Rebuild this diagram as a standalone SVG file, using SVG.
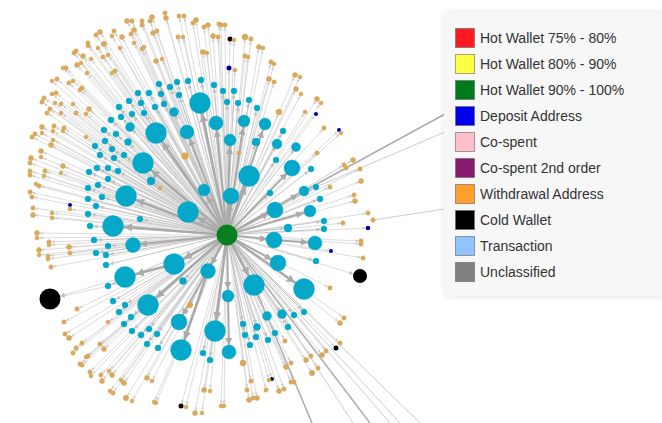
<svg xmlns="http://www.w3.org/2000/svg" width="662" height="423" viewBox="0 0 662 423">
<style>
.e path{fill:none}
.o path{stroke:#d6d6d6;stroke-width:.85;marker-end:url(#mo)}
.b path{stroke:#aaa;stroke-width:2.6;marker-end:url(#m10)}
.m path{stroke:#aaa;stroke-width:2;marker-end:url(#m7)}
.s path{stroke:#c6c6c6;stroke-width:1;marker-end:url(#m4)}
.l path{stroke:#cdcdcd;stroke-width:1}
.d path{stroke:#adadad;stroke-width:1.5}
.a{fill:#d8a95c;stroke:#d8a95c;stroke-width:.6}.x{fill:#05a8c9;stroke:#05a8c9;stroke-width:.4}.c{fill:#000}.n{fill:#0000a8}.w{fill:#e2a445}.h{fill:#0a7f22}
.k{stroke:#666;stroke-opacity:.6;stroke-width:1}
text{font-family:"Liberation Sans",Arial,sans-serif;font-size:14px;fill:#333}
</style>
<defs>
<marker id="m10" markerUnits="userSpaceOnUse" viewBox="0 0 8 8" refX="19" refY="4" markerWidth="8" markerHeight="8" orient="auto" overflow="visible"><path d="M0 0L8 4L0 8z" fill="#aaa"/></marker>
<marker id="m7" markerUnits="userSpaceOnUse" viewBox="0 0 7 7" refX="14" refY="3.5" markerWidth="7" markerHeight="7" orient="auto" overflow="visible"><path d="M0 0L7 3.5L0 7z" fill="#aaa"/></marker>
<marker id="m4" markerUnits="userSpaceOnUse" viewBox="0 0 4 4" refX="7.500" refY="2" markerWidth="4" markerHeight="4" orient="auto" overflow="visible"><path d="M0 0L4 2L0 4z" fill="#c0c0c0"/></marker>
<marker id="mo" markerUnits="userSpaceOnUse" viewBox="0 0 3 3" refX="5.500" refY="1.500" markerWidth="3" markerHeight="3" orient="auto" overflow="visible"><path d="M0 0L3 1.500L0 3z" fill="#cdcdcd"/></marker>
<marker id="mc" markerUnits="userSpaceOnUse" viewBox="0 0 4 4" refX="15" refY="2" markerWidth="4" markerHeight="4" orient="auto" overflow="visible"><path d="M0 0L4 2L0 4z" fill="#bdbdbd"/></marker>
<marker id="mc7" markerUnits="userSpaceOnUse" viewBox="0 0 4 4" refX="11" refY="2" markerWidth="4" markerHeight="4" orient="auto" overflow="visible"><path d="M0 0L4 2L0 4z" fill="#bdbdbd"/></marker>
<filter id="sh" x="-10%" y="-10%" width="120%" height="120%"><feGaussianBlur stdDeviation="3"/></filter>
<radialGradient id="fade" gradientUnits="userSpaceOnUse" cx="227" cy="235" r="90"><stop offset=".2" stop-color="#fff" stop-opacity=".1"/><stop offset=".8" stop-color="#fff" stop-opacity="1"/></radialGradient>
<mask id="fm" maskUnits="userSpaceOnUse" x="0" y="0" width="662" height="423"><rect width="662" height="423" fill="url(#fade)"/></mask>
</defs>
<g id="connectors" class="e">
<g class="o" mask="url(#fm)">
<path d="M227 235L165 13"/><path d="M227 235L166 18"/><path d="M227 235L179 16"/><path d="M227 235L184 16"/><path d="M227 235L196 20"/><path d="M227 235L193 23"/><path d="M227 235L208 25"/><path d="M227 235L204 27"/><path d="M227 235L219 24"/>
<path d="M227 235L152 17"/><path d="M227 235L150 21"/><path d="M227 235L142 21"/><path d="M227 235L142 25"/><path d="M227 235L127 21"/><path d="M227 235L132 21"/><path d="M227 235L114 31"/><path d="M227 235L112 36"/><path d="M227 235L100 32"/><path d="M227 235L96 35"/><path d="M227 235L134 30"/><path d="M227 235L131 34"/><path d="M227 235L122 37"/><path d="M227 235L104 44"/><path d="M227 235L88 43"/><path d="M227 235L88 46"/><path d="M227 235L76 51"/><path d="M227 235L74 53"/><path d="M227 235L98 48"/><path d="M227 235L83 56"/><path d="M227 235L91 59"/><path d="M227 235L108 55"/><path d="M227 235L103 57"/><path d="M227 235L120 48"/><path d="M227 235L134 43"/><path d="M227 235L144 47"/><path d="M227 235L142 49"/><path d="M227 235L153 33"/><path d="M227 235L157 31"/><path d="M227 235L178 37"/><path d="M227 235L183 37"/><path d="M227 235L213 36"/><path d="M227 235L218 37"/><path d="M227 235L203 52"/><path d="M227 235L207 53"/><path d="M227 235L156 61"/><path d="M227 235L162 59"/><path d="M227 235L115 71"/><path d="M227 235L112 73"/><path d="M227 235L87 73"/><path d="M227 235L77 65"/><path d="M227 235L81 63"/><path d="M227 235L66 68"/><path d="M227 235L63 68"/><path d="M227 235L57 79"/><path d="M227 235L52 81"/><path d="M227 235L73 81"/><path d="M227 235L69 83"/><path d="M227 235L82 88"/><path d="M227 235L80 90"/><path d="M227 235L56 93"/><path d="M227 235L52 94"/><path d="M227 235L44 98"/><path d="M227 235L42 102"/><path d="M227 235L55 103"/><path d="M227 235L61 104"/><path d="M227 235L73 104"/><path d="M227 235L89 109"/><path d="M227 235L86 114"/><path d="M227 235L76 113"/><path d="M227 235L61 113"/><path d="M227 235L50 109"/><path d="M227 235L47 113"/><path d="M227 235L42 127"/><path d="M227 235L54 126"/><path d="M227 235L64 128"/><path d="M227 235L63 131"/><path d="M227 235L53 131"/><path d="M227 235L42 133"/><path d="M227 235L35 134"/><path d="M227 235L32 137"/><path d="M227 235L86 137"/><path d="M227 235L53 140"/><path d="M227 235L51 145"/><path d="M227 235L41 151"/><path d="M227 235L41 157"/><path d="M227 235L31 158"/><path d="M227 235L30 163"/><path d="M227 235L63 166"/><path d="M227 235L61 173"/><path d="M227 235L45 171"/><path d="M227 235L44 176"/><path d="M227 235L30 171"/><path d="M227 235L30 175"/><path d="M227 235L36 184"/><path d="M227 235L39 186"/><path d="M227 235L30 192"/><path d="M227 235L32 197"/><path d="M227 235L33 208"/><path d="M227 235L70 209"/>
<path d="M227 235L33 215"/><path d="M227 235L52 213"/><path d="M227 235L52 218"/><path d="M227 235L37 233"/><path d="M227 235L37 238"/><path d="M227 235L49 242"/><path d="M227 235L49 245"/><path d="M227 235L69 247"/><path d="M227 235L70 253"/><path d="M227 235L39 250"/><path d="M227 235L39 255"/><path d="M227 235L48 256"/><path d="M227 235L48 259"/><path d="M227 235L51 267"/><path d="M227 235L77 309"/><path d="M227 235L64 322"/><path d="M227 235L65 334"/><path d="M227 235L69 338"/><path d="M227 235L108 322"/><path d="M227 235L82 343"/><path d="M227 235L76 348"/><path d="M227 235L73 353"/><path d="M227 235L100 344"/><path d="M227 235L104 349"/><path d="M227 235L88 356"/><path d="M227 235L86 357"/><path d="M227 235L80 364"/><path d="M227 235L82 365"/><path d="M227 235L90 372"/><path d="M227 235L91 376"/><path d="M227 235L101 375"/><path d="M227 235L109 371"/><path d="M227 235L112 375"/><path d="M227 235L102 381"/><path d="M227 235L121 380"/><path d="M227 235L124 383"/><path d="M227 235L147 378"/><path d="M227 235L152 381"/><path d="M227 235L110 391"/><path d="M227 235L113 393"/><path d="M227 235L126 398"/><path d="M227 235L132 401"/><path d="M227 235L154 402"/><path d="M227 235L156 403"/><path d="M227 235L186 407"/><path d="M227 235L204 390"/><path d="M227 235L210 391"/><path d="M227 235L195 413"/><path d="M227 235L202 413"/><path d="M227 235L181 406"/><path style="marker-end:url(#mc)" d="M125 277L50 299"/><path style="marker-end:url(#mc)" d="M108 286L50 299"/>
<path d="M227 235L230 39"/><path d="M227 235L245 37"/><path d="M227 235L251 39"/><path d="M227 235L234 40"/><path d="M227 235L221 25"/><path d="M227 235L225 25"/><path d="M227 235L259 47"/><path d="M227 235L263 48"/><path d="M227 235L245 56"/><path d="M227 235L248 57"/><path d="M227 235L271 62"/><path d="M227 235L274 64"/><path d="M227 235L229 68"/><path d="M227 235L235 70"/><path d="M227 235L269 79"/><path d="M227 235L274 82"/><path d="M227 235L295 75"/><path d="M227 235L300 77"/><path d="M227 235L296 89"/><path d="M227 235L301 94"/><path d="M227 235L317 99"/><path d="M227 235L321 103"/><path d="M227 235L279 112"/><path d="M227 235L305 112"/><path d="M227 235L316 114"/><path d="M227 235L324 128"/><path d="M227 235L339 130"/><path d="M227 235L341 133"/><path d="M227 235L317 153"/><path d="M227 235L353 160"/><path d="M227 235L344 165"/><path d="M227 235L346 168"/><path d="M227 235L360 169"/><path d="M227 235L361 181"/><path d="M227 235L330 187"/><path d="M227 235L354 195"/><path d="M227 235L355 201"/><path d="M227 235L368 213"/><path d="M227 235L343 223"/><path d="M227 235L368 228"/><path d="M227 235L331 251"/><path d="M227 235L361 241"/><path d="M227 235L361 244"/><path d="M227 235L363 258"/><path style="marker-end:url(#mc7)" d="M227 235L360 276"/><path d="M227 235L330 288"/><path d="M227 235L344 318"/><path d="M227 235L340 323"/><path d="M227 235L340 343"/><path d="M227 235L336 348"/><path d="M227 235L326 351"/><path d="M227 235L322 355"/><path d="M227 235L311 356"/><path d="M227 235L306 360"/><path d="M227 235L318 368"/><path d="M227 235L312 373"/><path d="M227 235L285 341"/><path d="M227 235L291 363"/><path d="M227 235L286 367"/><path d="M227 235L291 382"/><path d="M227 235L294 382"/><path d="M227 235L279 391"/><path d="M227 235L284 389"/><path d="M227 235L266 390"/><path d="M227 235L269 380"/><path d="M227 235L272 379"/><path d="M227 235L251 381"/><path d="M227 235L247 390"/><path d="M227 235L243 363"/><path d="M227 235L249 400"/><path d="M227 235L253 398"/><path d="M227 235L257 398"/><path d="M227 235L221 406"/><path d="M227 235L224 406"/>
<path d="M227 235L185 156"/><path d="M227 235L190 305"/><path d="M227 235L160 188"/><path d="M227 235L239 153"/>
</g>
<g class="l">
<path d="M316 187L445 132"/><path d="M373 220L445 209"/><path d="M227 235L420 423"/><path d="M227 235L400 423"/><path d="M227 235L390 423"/><path d="M282 314L353 423"/>
</g>
<g class="d">
<path d="M304 191L445 114"/><path d="M227 235L370 423"/><path d="M254 285L312 423"/>
</g>
<g class="s">
<path d="M227 235L159 84"/><path d="M227 235L177 82"/><path d="M227 235L188 81"/><path d="M227 235L201 80"/><path d="M227 235L214 85"/><path d="M227 235L170 87"/><path d="M227 235L161 94"/><path d="M227 235L179 95"/><path d="M227 235L138 93"/><path d="M227 235L149 93"/><path d="M227 235L129 101"/><path d="M227 235L141 103"/><path d="M227 235L164 104"/><path d="M227 235L155 107"/><path d="M227 235L119 107"/><path d="M227 235L132 114"/><path d="M227 235L144 113"/><path d="M227 235L121 117"/><path d="M227 235L111 120"/><path d="M227 235L104 130"/><path d="M227 235L116 134"/><path d="M227 235L105 141"/><path d="M227 235L95 146"/><path d="M227 235L112 149"/><path d="M227 235L100 155"/><path d="M227 235L124 155"/><path d="M227 235L114 158"/><path d="M227 235L97 168"/><path d="M227 235L108 168"/><path d="M227 235L118 171"/><path d="M227 235L89 172"/><path d="M227 235L108 179"/><path d="M227 235L98 185"/><path d="M227 235L88 188"/><path d="M227 235L102 197"/><path d="M227 235L88 199"/><path d="M227 235L96 206"/><path d="M227 235L88 214"/><path d="M227 235L90 226"/><path d="M227 235L140 219"/><path d="M227 235L94 240"/><path d="M227 235L108 246"/><path d="M227 235L96 253"/><path d="M227 235L106 255"/><path d="M227 235L106 265"/><path d="M227 235L108 286"/><path d="M227 235L183 281"/><path d="M227 235L113 301"/><path d="M227 235L125 305"/><path d="M227 235L119 312"/><path d="M227 235L131 317"/><path d="M227 235L124 324"/><path d="M227 235L132 331"/><path d="M227 235L141 335"/><path d="M227 235L149 329"/><path d="M227 235L157 334"/><path d="M227 235L147 344"/><path d="M227 235L158 348"/><path d="M227 235L203 353"/><path d="M227 235L210 360"/><path d="M227 235L223 91"/><path d="M227 235L234 91"/><path d="M227 235L227 102"/><path d="M227 235L238 103"/><path d="M227 235L249 100"/><path d="M227 235L257 108"/><path d="M227 235L283 131"/><path d="M227 235L276 160"/><path d="M227 235L311 169"/><path d="M227 235L270 193"/><path d="M227 235L316 187"/><path d="M227 235L320 199"/><path d="M227 235L288 228"/><path d="M227 235L324 221"/><path d="M227 235L324 229"/><path d="M227 235L316 261"/><path d="M227 235L267 316"/><path d="M227 235L282 314"/><path d="M227 235L294 315"/><path d="M227 235L304 312"/><path d="M227 235L288 327"/><path d="M227 235L275 333"/><path d="M227 235L268 340"/><path d="M227 235L256 337"/><path d="M227 235L257 327"/><path d="M227 235L243 324"/><path d="M227 235L245 335"/><path d="M227 235L250 345"/><path d="M227 235L174 112"/><path d="M227 235L130 127"/><path d="M227 235L128 142"/><path d="M227 235L151 181"/><path d="M227 235L256 142"/><path d="M227 235L277 144"/><path d="M227 235L296 147"/>
</g>
<g class="m">
<path d="M227 235L292 168"/><path d="M227 235L231 196"/><path d="M227 235L275 210"/><path d="M227 235L274 240"/><path d="M227 235L278 263"/><path d="M227 235L179 322"/><path d="M227 235L133 245"/><path d="M228 296L229 352"/><path d="M274 240L315 243"/><path d="M227 235L310 211"/><path d="M227 235L208 271"/><path d="M227 235L228 296"/><path d="M227 235L204 190"/><path d="M227 235L187 132"/><path d="M227 235L216 123"/><path d="M227 235L244 121"/><path d="M227 235L265 124"/><path d="M227 235L230 140"/><path d="M227 235L304 191"/>
</g>
<g class="b">
<path d="M227 235L200 103"/><path d="M227 235L156 133"/><path d="M227 235L143 163"/><path d="M227 235L126 196"/><path d="M227 235L113 226"/><path d="M174 264L125 277"/><path d="M227 235L174 264"/><path d="M227 235L148 305"/><path d="M208 271L181 350"/><path d="M227 235L215 331"/><path d="M227 235L254 285"/><path d="M227 235L304 289"/><path d="M227 235L249 176"/><path d="M227 235L188 212"/>
</g>
</g>
<g id="nodes">
<g id="center"><circle class="h" cx="227" cy="235" r="10.5"/></g>
<g id="tx1"><circle class="x" cx="200" cy="103" r="10.5"/></g>
<g id="tx2"><circle class="x" cx="156" cy="133" r="10.5"/></g>
<g id="tx3"><circle class="x" cx="143" cy="163" r="10.5"/></g>
<g id="tx4"><circle class="x" cx="126" cy="196" r="10.5"/></g>
<g id="tx5"><circle class="x" cx="113" cy="226" r="10.5"/></g>
<g id="tx6"><circle class="x" cx="125" cy="277" r="10.5"/></g>
<g id="tx7"><circle class="x" cx="174" cy="264" r="10.5"/></g>
<g id="tx8"><circle class="x" cx="148" cy="305" r="10.5"/></g>
<g id="tx9"><circle class="x" cx="181" cy="350" r="10.5"/></g>
<g id="tx10"><circle class="x" cx="215" cy="331" r="10.5"/></g>
<g id="tx11"><circle class="x" cx="254" cy="285" r="10.5"/></g>
<g id="tx12"><circle class="x" cx="304" cy="289" r="10.5"/></g>
<g id="tx13"><circle class="x" cx="249" cy="176" r="10.5"/></g>
<g id="tx14"><circle class="x" cx="188" cy="212" r="10.5"/></g>
<g id="tx15"><circle class="x" cx="292" cy="168" r="8"/></g>
<g id="tx16"><circle class="x" cx="231" cy="196" r="8"/></g>
<g id="tx17"><circle class="x" cx="275" cy="210" r="8"/></g>
<g id="tx18"><circle class="x" cx="274" cy="240" r="8"/></g>
<g id="tx19"><circle class="x" cx="278" cy="263" r="8"/></g>
<g id="tx20"><circle class="x" cx="179" cy="322" r="8"/></g>
<g id="tx21"><circle class="x" cx="133" cy="245" r="7.5"/></g>
<g id="tx22"><circle class="x" cx="229" cy="352" r="7"/></g>
<g id="tx23"><circle class="x" cx="315" cy="243" r="7"/></g>
<g id="tx24"><circle class="x" cx="310" cy="211" r="6"/></g>
<g id="tx25"><circle class="x" cx="208" cy="271" r="7.5"/></g>
<g id="tx26"><circle class="x" cx="228" cy="296" r="6"/></g>
<g id="tx27"><circle class="x" cx="204" cy="190" r="6"/></g>
<g id="tx28"><circle class="x" cx="187" cy="132" r="7"/></g>
<g id="tx29"><circle class="x" cx="216" cy="123" r="7"/></g>
<g id="tx30"><circle class="x" cx="244" cy="121" r="6"/></g>
<g id="tx31"><circle class="x" cx="265" cy="124" r="6"/></g>
<g id="tx32"><circle class="x" cx="230" cy="140" r="6"/></g>
<g id="tx33"><circle class="x" cx="304" cy="191" r="5"/></g>
<g id="tx34"><circle class="x" cx="174" cy="112" r="4.5"/></g>
<g id="tx35"><circle class="x" cx="130" cy="127" r="4.5"/></g>
<g id="tx36"><circle class="x" cx="128" cy="142" r="3.5"/></g>
<g id="tx37"><circle class="x" cx="151" cy="181" r="4"/></g>
<g id="tx38"><circle class="x" cx="256" cy="142" r="4"/></g>
<g id="tx39"><circle class="x" cx="277" cy="144" r="5"/></g>
<g id="tx40"><circle class="x" cx="296" cy="147" r="4.5"/></g>
<g id="tx41"><circle class="x" cx="288" cy="228" r="4"/></g>
<g id="tx42"><circle class="x" cx="267" cy="316" r="4.5"/></g>
<g id="tx43"><circle class="x" cx="282" cy="314" r="4.5"/></g>
<g id="tx44"><circle class="x" cx="257" cy="327" r="3.5"/></g>
<g id="tx45"><circle class="x" cx="159" cy="84" r="3"/></g>
<g id="tx46"><circle class="x" cx="177" cy="82" r="3"/></g>
<g id="tx47"><circle class="x" cx="188" cy="81" r="3"/></g>
<g id="tx48"><circle class="x" cx="201" cy="80" r="3"/></g>
<g id="tx49"><circle class="x" cx="214" cy="85" r="3"/></g>
<g id="tx50"><circle class="x" cx="170" cy="87" r="3"/></g>
<g id="tx51"><circle class="x" cx="161" cy="94" r="3"/></g>
<g id="tx52"><circle class="x" cx="179" cy="95" r="3"/></g>
<g id="tx53"><circle class="x" cx="138" cy="93" r="3"/></g>
<g id="tx54"><circle class="x" cx="149" cy="93" r="3"/></g>
<g id="tx55"><circle class="x" cx="129" cy="101" r="3"/></g>
<g id="tx56"><circle class="x" cx="141" cy="103" r="3"/></g>
<g id="tx57"><circle class="x" cx="164" cy="104" r="3"/></g>
<g id="tx58"><circle class="x" cx="155" cy="107" r="3"/></g>
<g id="tx59"><circle class="x" cx="119" cy="107" r="3"/></g>
<g id="tx60"><circle class="x" cx="132" cy="114" r="3"/></g>
<g id="tx61"><circle class="x" cx="144" cy="113" r="3"/></g>
<g id="tx62"><circle class="x" cx="121" cy="117" r="3"/></g>
<g id="tx63"><circle class="x" cx="111" cy="120" r="3"/></g>
<g id="tx64"><circle class="x" cx="104" cy="130" r="3"/></g>
<g id="tx65"><circle class="x" cx="116" cy="134" r="3"/></g>
<g id="tx66"><circle class="x" cx="105" cy="141" r="3"/></g>
<g id="tx67"><circle class="x" cx="95" cy="146" r="3"/></g>
<g id="tx68"><circle class="x" cx="112" cy="149" r="3"/></g>
<g id="tx69"><circle class="x" cx="100" cy="155" r="3"/></g>
<g id="tx70"><circle class="x" cx="124" cy="155" r="3"/></g>
<g id="tx71"><circle class="x" cx="114" cy="158" r="3"/></g>
<g id="tx72"><circle class="x" cx="97" cy="168" r="3"/></g>
<g id="tx73"><circle class="x" cx="108" cy="168" r="3"/></g>
<g id="tx74"><circle class="x" cx="118" cy="171" r="3"/></g>
<g id="tx75"><circle class="x" cx="89" cy="172" r="3"/></g>
<g id="tx76"><circle class="x" cx="108" cy="179" r="3"/></g>
<g id="tx77"><circle class="x" cx="98" cy="185" r="3"/></g>
<g id="tx78"><circle class="x" cx="88" cy="188" r="3"/></g>
<g id="tx79"><circle class="x" cx="102" cy="197" r="3"/></g>
<g id="tx80"><circle class="x" cx="88" cy="199" r="3"/></g>
<g id="tx81"><circle class="x" cx="96" cy="206" r="3"/></g>
<g id="tx82"><circle class="x" cx="88" cy="214" r="3"/></g>
<g id="tx83"><circle class="x" cx="90" cy="226" r="3"/></g>
<g id="tx84"><circle class="x" cx="140" cy="219" r="3"/></g>
<g id="tx85"><circle class="x" cx="94" cy="240" r="3"/></g>
<g id="tx86"><circle class="x" cx="108" cy="246" r="3"/></g>
<g id="tx87"><circle class="x" cx="96" cy="253" r="3"/></g>
<g id="tx88"><circle class="x" cx="106" cy="255" r="3"/></g>
<g id="tx89"><circle class="x" cx="106" cy="265" r="3"/></g>
<g id="tx90"><circle class="x" cx="108" cy="286" r="3"/></g>
<g id="tx91"><circle class="x" cx="183" cy="281" r="3.5"/></g>
<g id="tx92"><circle class="x" cx="113" cy="301" r="3"/></g>
<g id="tx93"><circle class="x" cx="125" cy="305" r="3"/></g>
<g id="tx94"><circle class="x" cx="119" cy="312" r="3"/></g>
<g id="tx95"><circle class="x" cx="131" cy="317" r="3"/></g>
<g id="tx96"><circle class="x" cx="124" cy="324" r="3"/></g>
<g id="tx97"><circle class="x" cx="132" cy="331" r="3"/></g>
<g id="tx98"><circle class="x" cx="141" cy="335" r="3"/></g>
<g id="tx99"><circle class="x" cx="149" cy="329" r="3"/></g>
<g id="tx100"><circle class="x" cx="157" cy="334" r="3"/></g>
<g id="tx101"><circle class="x" cx="147" cy="344" r="3"/></g>
<g id="tx102"><circle class="x" cx="158" cy="348" r="3"/></g>
<g id="tx103"><circle class="x" cx="203" cy="353" r="3"/></g>
<g id="tx104"><circle class="x" cx="210" cy="360" r="3"/></g>
<g id="tx105"><circle class="x" cx="223" cy="91" r="3"/></g>
<g id="tx106"><circle class="x" cx="234" cy="91" r="3"/></g>
<g id="tx107"><circle class="x" cx="227" cy="102" r="3"/></g>
<g id="tx108"><circle class="x" cx="238" cy="103" r="3"/></g>
<g id="tx109"><circle class="x" cx="249" cy="100" r="3"/></g>
<g id="tx110"><circle class="x" cx="257" cy="108" r="3"/></g>
<g id="tx111"><circle class="x" cx="283" cy="131" r="3"/></g>
<g id="tx112"><circle class="x" cx="276" cy="160" r="3"/></g>
<g id="tx113"><circle class="x" cx="311" cy="169" r="3"/></g>
<g id="tx114"><circle class="x" cx="270" cy="193" r="3"/></g>
<g id="tx115"><circle class="x" cx="316" cy="187" r="3"/></g>
<g id="tx116"><circle class="x" cx="320" cy="199" r="3"/></g>
<g id="tx117"><circle class="x" cx="324" cy="221" r="3"/></g>
<g id="tx118"><circle class="x" cx="324" cy="229" r="3"/></g>
<g id="tx119"><circle class="x" cx="316" cy="261" r="3"/></g>
<g id="tx120"><circle class="x" cx="294" cy="315" r="3"/></g>
<g id="tx121"><circle class="x" cx="304" cy="312" r="3"/></g>
<g id="tx122"><circle class="x" cx="288" cy="327" r="3"/></g>
<g id="tx123"><circle class="x" cx="275" cy="333" r="3"/></g>
<g id="tx124"><circle class="x" cx="268" cy="340" r="3"/></g>
<g id="tx125"><circle class="x" cx="256" cy="337" r="3"/></g>
<g id="tx126"><circle class="x" cx="243" cy="324" r="3"/></g>
<g id="tx127"><circle class="x" cx="245" cy="335" r="3"/></g>
<g id="tx128"><circle class="x" cx="250" cy="345" r="3"/></g>
<g id="cold1"><circle class="c" cx="50" cy="299" r="10.5"/></g>
<g id="cold2"><circle class="c" cx="360" cy="276" r="7"/></g>
<g id="cold3"><circle class="c" cx="230" cy="39" r="2.5"/></g>
<g id="cold4"><circle class="c" cx="336" cy="348" r="2.5"/></g>
<g id="cold5"><circle class="c" cx="272" cy="379" r="2"/></g>
<g id="cold6"><circle class="c" cx="181" cy="406" r="2.5"/></g>
<g id="dep1"><circle class="n" cx="70" cy="205" r="2"/></g>
<g id="dep2"><circle class="n" cx="229" cy="68" r="2.5"/></g>
<g id="dep3"><circle class="n" cx="316" cy="114" r="2"/></g>
<g id="dep4"><circle class="n" cx="339" cy="130" r="2"/></g>
<g id="dep5"><circle class="n" cx="368" cy="228" r="2.3"/></g>
<g id="dep6"><circle class="n" cx="331" cy="251" r="2"/></g>
<g id="wd1"><circle class="w" cx="185" cy="156" r="3.5"/></g>
<g id="wd2"><circle class="w" cx="190" cy="305" r="3"/></g>
<g id="a1"><circle class="a" cx="165" cy="13" r="2.2"/></g>
<g id="a2"><circle class="a" cx="166" cy="18" r="2.5"/></g>
<g id="a3"><circle class="a" cx="179" cy="16" r="2.2"/></g>
<g id="a4"><circle class="a" cx="184" cy="16" r="2.2"/></g>
<g id="a5"><circle class="a" cx="196" cy="20" r="2.5"/></g>
<g id="a6"><circle class="a" cx="193" cy="23" r="2.2"/></g>
<g id="a7"><circle class="a" cx="208" cy="25" r="2.5"/></g>
<g id="a8"><circle class="a" cx="204" cy="27" r="2.2"/></g>
<g id="a9"><circle class="a" cx="219" cy="24" r="2.2"/></g>
<g id="a10"><circle class="a" cx="152" cy="17" r="2.5"/></g>
<g id="a11"><circle class="a" cx="150" cy="21" r="2.2"/></g>
<g id="a12"><circle class="a" cx="142" cy="21" r="2.2"/></g>
<g id="a13"><circle class="a" cx="142" cy="25" r="2.2"/></g>
<g id="a14"><circle class="a" cx="127" cy="21" r="2.5"/></g>
<g id="a15"><circle class="a" cx="132" cy="21" r="2.2"/></g>
<g id="a16"><circle class="a" cx="114" cy="31" r="2.2"/></g>
<g id="a17"><circle class="a" cx="112" cy="36" r="2"/></g>
<g id="a18"><circle class="a" cx="100" cy="32" r="2.5"/></g>
<g id="a19"><circle class="a" cx="96" cy="35" r="2.2"/></g>
<g id="a20"><circle class="a" cx="134" cy="30" r="2.5"/></g>
<g id="a21"><circle class="a" cx="131" cy="34" r="2.2"/></g>
<g id="a22"><circle class="a" cx="122" cy="37" r="2.5"/></g>
<g id="a23"><circle class="a" cx="104" cy="44" r="2.7"/></g>
<g id="a24"><circle class="a" cx="88" cy="43" r="2.2"/></g>
<g id="a25"><circle class="a" cx="88" cy="46" r="2"/></g>
<g id="a26"><circle class="a" cx="76" cy="51" r="2.2"/></g>
<g id="a27"><circle class="a" cx="74" cy="53" r="2.2"/></g>
<g id="a28"><circle class="a" cx="98" cy="48" r="2"/></g>
<g id="a29"><circle class="a" cx="83" cy="56" r="2.5"/></g>
<g id="a30"><circle class="a" cx="91" cy="59" r="2"/></g>
<g id="a31"><circle class="a" cx="108" cy="55" r="2"/></g>
<g id="a32"><circle class="a" cx="103" cy="57" r="2.2"/></g>
<g id="a33"><circle class="a" cx="120" cy="48" r="2"/></g>
<g id="a34"><circle class="a" cx="134" cy="43" r="2"/></g>
<g id="a35"><circle class="a" cx="144" cy="47" r="2"/></g>
<g id="a36"><circle class="a" cx="142" cy="49" r="2"/></g>
<g id="a37"><circle class="a" cx="153" cy="33" r="2.5"/></g>
<g id="a38"><circle class="a" cx="157" cy="31" r="2.2"/></g>
<g id="a39"><circle class="a" cx="178" cy="37" r="2.2"/></g>
<g id="a40"><circle class="a" cx="183" cy="37" r="2"/></g>
<g id="a41"><circle class="a" cx="213" cy="36" r="2.5"/></g>
<g id="a42"><circle class="a" cx="218" cy="37" r="2.2"/></g>
<g id="a43"><circle class="a" cx="203" cy="52" r="2.5"/></g>
<g id="a44"><circle class="a" cx="207" cy="53" r="2"/></g>
<g id="a45"><circle class="a" cx="156" cy="61" r="2.5"/></g>
<g id="a46"><circle class="a" cx="162" cy="59" r="2"/></g>
<g id="a47"><circle class="a" cx="115" cy="71" r="2.2"/></g>
<g id="a48"><circle class="a" cx="112" cy="73" r="2"/></g>
<g id="a49"><circle class="a" cx="87" cy="73" r="2"/></g>
<g id="a50"><circle class="a" cx="77" cy="65" r="2.5"/></g>
<g id="a51"><circle class="a" cx="81" cy="63" r="2"/></g>
<g id="a52"><circle class="a" cx="66" cy="68" r="2.2"/></g>
<g id="a53"><circle class="a" cx="63" cy="68" r="2"/></g>
<g id="a54"><circle class="a" cx="57" cy="79" r="2.2"/></g>
<g id="a55"><circle class="a" cx="52" cy="81" r="2"/></g>
<g id="a56"><circle class="a" cx="73" cy="81" r="2"/></g>
<g id="a57"><circle class="a" cx="69" cy="83" r="2.2"/></g>
<g id="a58"><circle class="a" cx="82" cy="88" r="2.2"/></g>
<g id="a59"><circle class="a" cx="80" cy="90" r="2"/></g>
<g id="a60"><circle class="a" cx="56" cy="93" r="2.2"/></g>
<g id="a61"><circle class="a" cx="52" cy="94" r="2"/></g>
<g id="a62"><circle class="a" cx="44" cy="98" r="2.2"/></g>
<g id="a63"><circle class="a" cx="42" cy="102" r="2.2"/></g>
<g id="a64"><circle class="a" cx="55" cy="103" r="2"/></g>
<g id="a65"><circle class="a" cx="61" cy="104" r="2"/></g>
<g id="a66"><circle class="a" cx="73" cy="104" r="2"/></g>
<g id="a67"><circle class="a" cx="89" cy="109" r="2.5"/></g>
<g id="a68"><circle class="a" cx="86" cy="114" r="2"/></g>
<g id="a69"><circle class="a" cx="76" cy="113" r="2.2"/></g>
<g id="a70"><circle class="a" cx="61" cy="113" r="2"/></g>
<g id="a71"><circle class="a" cx="50" cy="109" r="2.2"/></g>
<g id="a72"><circle class="a" cx="47" cy="113" r="2.2"/></g>
<g id="a73"><circle class="a" cx="42" cy="127" r="2.5"/></g>
<g id="a74"><circle class="a" cx="54" cy="126" r="2.2"/></g>
<g id="a75"><circle class="a" cx="64" cy="128" r="2.2"/></g>
<g id="a76"><circle class="a" cx="63" cy="131" r="2"/></g>
<g id="a77"><circle class="a" cx="53" cy="131" r="2"/></g>
<g id="a78"><circle class="a" cx="42" cy="133" r="2"/></g>
<g id="a79"><circle class="a" cx="35" cy="134" r="2.2"/></g>
<g id="a80"><circle class="a" cx="32" cy="137" r="2.2"/></g>
<g id="a81"><circle class="a" cx="86" cy="137" r="2"/></g>
<g id="a82"><circle class="a" cx="53" cy="140" r="2"/></g>
<g id="a83"><circle class="a" cx="51" cy="145" r="2.5"/></g>
<g id="a84"><circle class="a" cx="41" cy="151" r="2.5"/></g>
<g id="a85"><circle class="a" cx="41" cy="157" r="2"/></g>
<g id="a86"><circle class="a" cx="31" cy="158" r="2.5"/></g>
<g id="a87"><circle class="a" cx="30" cy="163" r="2.2"/></g>
<g id="a88"><circle class="a" cx="63" cy="166" r="2.5"/></g>
<g id="a89"><circle class="a" cx="61" cy="173" r="2"/></g>
<g id="a90"><circle class="a" cx="45" cy="171" r="2.2"/></g>
<g id="a91"><circle class="a" cx="44" cy="176" r="2"/></g>
<g id="a92"><circle class="a" cx="30" cy="171" r="2.2"/></g>
<g id="a93"><circle class="a" cx="30" cy="175" r="2.2"/></g>
<g id="a94"><circle class="a" cx="36" cy="184" r="2"/></g>
<g id="a95"><circle class="a" cx="39" cy="186" r="2.2"/></g>
<g id="a96"><circle class="a" cx="30" cy="192" r="2.2"/></g>
<g id="a97"><circle class="a" cx="32" cy="197" r="2.2"/></g>
<g id="a98"><circle class="a" cx="33" cy="208" r="2.2"/></g>
<g id="a99"><circle class="a" cx="70" cy="209" r="2"/></g>
<g id="a100"><circle class="a" cx="160" cy="188" r="2"/></g>
<g id="a101"><circle class="a" cx="33" cy="215" r="2.5"/></g>
<g id="a102"><circle class="a" cx="52" cy="213" r="2"/></g>
<g id="a103"><circle class="a" cx="52" cy="218" r="2"/></g>
<g id="a104"><circle class="a" cx="37" cy="233" r="2.5"/></g>
<g id="a105"><circle class="a" cx="37" cy="238" r="2"/></g>
<g id="a106"><circle class="a" cx="49" cy="242" r="2.2"/></g>
<g id="a107"><circle class="a" cx="49" cy="245" r="2"/></g>
<g id="a108"><circle class="a" cx="69" cy="247" r="2.5"/></g>
<g id="a109"><circle class="a" cx="70" cy="253" r="2.2"/></g>
<g id="a110"><circle class="a" cx="39" cy="250" r="2.5"/></g>
<g id="a111"><circle class="a" cx="39" cy="255" r="2"/></g>
<g id="a112"><circle class="a" cx="48" cy="256" r="2"/></g>
<g id="a113"><circle class="a" cx="48" cy="259" r="2"/></g>
<g id="a114"><circle class="a" cx="51" cy="267" r="2.2"/></g>
<g id="a115"><circle class="a" cx="77" cy="309" r="2.2"/></g>
<g id="a116"><circle class="a" cx="64" cy="322" r="2.2"/></g>
<g id="a117"><circle class="a" cx="65" cy="334" r="2.2"/></g>
<g id="a118"><circle class="a" cx="69" cy="338" r="2.5"/></g>
<g id="a119"><circle class="a" cx="108" cy="322" r="2"/></g>
<g id="a120"><circle class="a" cx="82" cy="343" r="2.2"/></g>
<g id="a121"><circle class="a" cx="76" cy="348" r="2.2"/></g>
<g id="a122"><circle class="a" cx="73" cy="353" r="2.2"/></g>
<g id="a123"><circle class="a" cx="100" cy="344" r="2.2"/></g>
<g id="a124"><circle class="a" cx="104" cy="349" r="2.5"/></g>
<g id="a125"><circle class="a" cx="88" cy="356" r="2.2"/></g>
<g id="a126"><circle class="a" cx="86" cy="357" r="2"/></g>
<g id="a127"><circle class="a" cx="80" cy="364" r="2.2"/></g>
<g id="a128"><circle class="a" cx="82" cy="365" r="2.2"/></g>
<g id="a129"><circle class="a" cx="90" cy="372" r="2.2"/></g>
<g id="a130"><circle class="a" cx="91" cy="376" r="2"/></g>
<g id="a131"><circle class="a" cx="101" cy="375" r="2.2"/></g>
<g id="a132"><circle class="a" cx="109" cy="371" r="2"/></g>
<g id="a133"><circle class="a" cx="112" cy="375" r="2.5"/></g>
<g id="a134"><circle class="a" cx="102" cy="381" r="2.5"/></g>
<g id="a135"><circle class="a" cx="121" cy="380" r="2"/></g>
<g id="a136"><circle class="a" cx="124" cy="383" r="2.5"/></g>
<g id="a137"><circle class="a" cx="147" cy="378" r="2.5"/></g>
<g id="a138"><circle class="a" cx="152" cy="381" r="2"/></g>
<g id="a139"><circle class="a" cx="110" cy="391" r="2"/></g>
<g id="a140"><circle class="a" cx="113" cy="393" r="2.2"/></g>
<g id="a141"><circle class="a" cx="126" cy="398" r="2.7"/></g>
<g id="a142"><circle class="a" cx="132" cy="401" r="2"/></g>
<g id="a143"><circle class="a" cx="154" cy="402" r="2"/></g>
<g id="a144"><circle class="a" cx="156" cy="403" r="2"/></g>
<g id="a145"><circle class="a" cx="186" cy="407" r="2"/></g>
<g id="a146"><circle class="a" cx="204" cy="390" r="2.5"/></g>
<g id="a147"><circle class="a" cx="210" cy="391" r="2"/></g>
<g id="a148"><circle class="a" cx="195" cy="413" r="2.5"/></g>
<g id="a149"><circle class="a" cx="202" cy="413" r="2"/></g>
<g id="a150"><circle class="a" cx="245" cy="37" r="3"/></g>
<g id="a151"><circle class="a" cx="251" cy="39" r="2.2"/></g>
<g id="a152"><circle class="a" cx="234" cy="40" r="2"/></g>
<g id="a153"><circle class="a" cx="221" cy="25" r="2.2"/></g>
<g id="a154"><circle class="a" cx="225" cy="25" r="2.2"/></g>
<g id="a155"><circle class="a" cx="259" cy="47" r="2.5"/></g>
<g id="a156"><circle class="a" cx="263" cy="48" r="2"/></g>
<g id="a157"><circle class="a" cx="245" cy="56" r="2.2"/></g>
<g id="a158"><circle class="a" cx="248" cy="57" r="2"/></g>
<g id="a159"><circle class="a" cx="271" cy="62" r="2.2"/></g>
<g id="a160"><circle class="a" cx="274" cy="64" r="2"/></g>
<g id="a161"><circle class="a" cx="235" cy="70" r="2"/></g>
<g id="a162"><circle class="a" cx="269" cy="79" r="2.5"/></g>
<g id="a163"><circle class="a" cx="274" cy="82" r="2.2"/></g>
<g id="a164"><circle class="a" cx="295" cy="75" r="2.5"/></g>
<g id="a165"><circle class="a" cx="300" cy="77" r="2"/></g>
<g id="a166"><circle class="a" cx="296" cy="89" r="2.5"/></g>
<g id="a167"><circle class="a" cx="301" cy="94" r="2"/></g>
<g id="a168"><circle class="a" cx="317" cy="99" r="2.5"/></g>
<g id="a169"><circle class="a" cx="321" cy="103" r="2"/></g>
<g id="a170"><circle class="a" cx="279" cy="112" r="3"/></g>
<g id="a171"><circle class="a" cx="305" cy="112" r="2"/></g>
<g id="a172"><circle class="a" cx="324" cy="128" r="2.2"/></g>
<g id="a173"><circle class="a" cx="341" cy="133" r="2"/></g>
<g id="a174"><circle class="a" cx="239" cy="153" r="2"/></g>
<g id="a175"><circle class="a" cx="317" cy="153" r="2.2"/></g>
<g id="a176"><circle class="a" cx="353" cy="160" r="2.5"/></g>
<g id="a177"><circle class="a" cx="344" cy="165" r="2.2"/></g>
<g id="a178"><circle class="a" cx="346" cy="168" r="2.2"/></g>
<g id="a179"><circle class="a" cx="360" cy="169" r="2.2"/></g>
<g id="a180"><circle class="a" cx="361" cy="181" r="2.5"/></g>
<g id="a181"><circle class="a" cx="330" cy="187" r="2.2"/></g>
<g id="a182"><circle class="a" cx="354" cy="195" r="2.2"/></g>
<g id="a183"><circle class="a" cx="355" cy="201" r="2.5"/></g>
<g id="a184"><circle class="a" cx="368" cy="213" r="2.2"/></g>
<g id="a185"><circle class="a" cx="373" cy="220" r="2.2"/></g>
<g id="a186"><circle class="a" cx="343" cy="223" r="2.2"/></g>
<g id="a187"><circle class="a" cx="361" cy="241" r="2.2"/></g>
<g id="a188"><circle class="a" cx="361" cy="244" r="2.2"/></g>
<g id="a189"><circle class="a" cx="363" cy="258" r="2.2"/></g>
<g id="a190"><circle class="a" cx="330" cy="288" r="2.2"/></g>
<g id="a191"><circle class="a" cx="344" cy="318" r="2.2"/></g>
<g id="a192"><circle class="a" cx="340" cy="323" r="2.5"/></g>
<g id="a193"><circle class="a" cx="340" cy="343" r="2.2"/></g>
<g id="a194"><circle class="a" cx="326" cy="351" r="2.2"/></g>
<g id="a195"><circle class="a" cx="322" cy="355" r="2.5"/></g>
<g id="a196"><circle class="a" cx="311" cy="356" r="2.2"/></g>
<g id="a197"><circle class="a" cx="306" cy="360" r="2.5"/></g>
<g id="a198"><circle class="a" cx="318" cy="368" r="2.2"/></g>
<g id="a199"><circle class="a" cx="312" cy="373" r="2.7"/></g>
<g id="a200"><circle class="a" cx="285" cy="341" r="2.2"/></g>
<g id="a201"><circle class="a" cx="291" cy="363" r="2.2"/></g>
<g id="a202"><circle class="a" cx="286" cy="367" r="2.5"/></g>
<g id="a203"><circle class="a" cx="291" cy="382" r="2.2"/></g>
<g id="a204"><circle class="a" cx="294" cy="382" r="2.2"/></g>
<g id="a205"><circle class="a" cx="279" cy="391" r="2.5"/></g>
<g id="a206"><circle class="a" cx="284" cy="389" r="2.2"/></g>
<g id="a207"><circle class="a" cx="266" cy="390" r="2.2"/></g>
<g id="a208"><circle class="a" cx="269" cy="380" r="2"/></g>
<g id="a209"><circle class="a" cx="251" cy="381" r="2.2"/></g>
<g id="a210"><circle class="a" cx="247" cy="390" r="2.2"/></g>
<g id="a211"><circle class="a" cx="243" cy="363" r="3"/></g>
<g id="a212"><circle class="a" cx="249" cy="400" r="2.5"/></g>
<g id="a213"><circle class="a" cx="253" cy="398" r="2.2"/></g>
<g id="a214"><circle class="a" cx="257" cy="398" r="2.5"/></g>
<g id="a215"><circle class="a" cx="221" cy="406" r="2"/></g>
<g id="a216"><circle class="a" cx="224" cy="406" r="2"/></g>
</g>
<g id="legend">
<rect x="444" y="12" width="224" height="285" rx="8" fill="#000" opacity=".1" filter="url(#sh)"/>
<rect x="444" y="12" width="224" height="284" rx="8" fill="#f7f7f7"/>
<g id="lg1"><rect class="k" x="455.500" y="28.500" width="19" height="19" fill="#ff1a22"/><text x="480" y="43">Hot Wallet 75% - 80%</text></g>
<g id="lg2"><rect class="k" x="455.500" y="54.500" width="19" height="19" fill="#ffff44"/><text x="480" y="69">Hot Wallet 80% - 90%</text></g>
<g id="lg3"><rect class="k" x="455.500" y="80.500" width="19" height="19" fill="#007a1c"/><text x="480" y="95">Hot Wallet 90% - 100%</text></g>
<g id="lg4"><rect class="k" x="455.500" y="106.500" width="19" height="19" fill="#0000ee"/><text x="480" y="121">Deposit Address</text></g>
<g id="lg5"><rect class="k" x="455.500" y="132.500" width="19" height="19" fill="#ffc0cb"/><text x="480" y="147">Co-spent</text></g>
<g id="lg6"><rect class="k" x="455.500" y="158.500" width="19" height="19" fill="#851a6f"/><text x="480" y="173">Co-spent 2nd order</text></g>
<g id="lg7"><rect class="k" x="455.500" y="184.500" width="19" height="19" fill="#ffa02e"/><text x="480" y="199">Withdrawal Address</text></g>
<g id="lg8"><rect class="k" x="455.500" y="210.500" width="19" height="19" fill="#000"/><text x="480" y="225">Cold Wallet</text></g>
<g id="lg9"><rect class="k" x="455.500" y="236.500" width="19" height="19" fill="#90c4ff"/><text x="480" y="251">Transaction</text></g>
<g id="lg10"><rect class="k" x="455.500" y="262.500" width="19" height="19" fill="#808080"/><text x="480" y="277">Unclassified</text></g>
</g>
</svg>
